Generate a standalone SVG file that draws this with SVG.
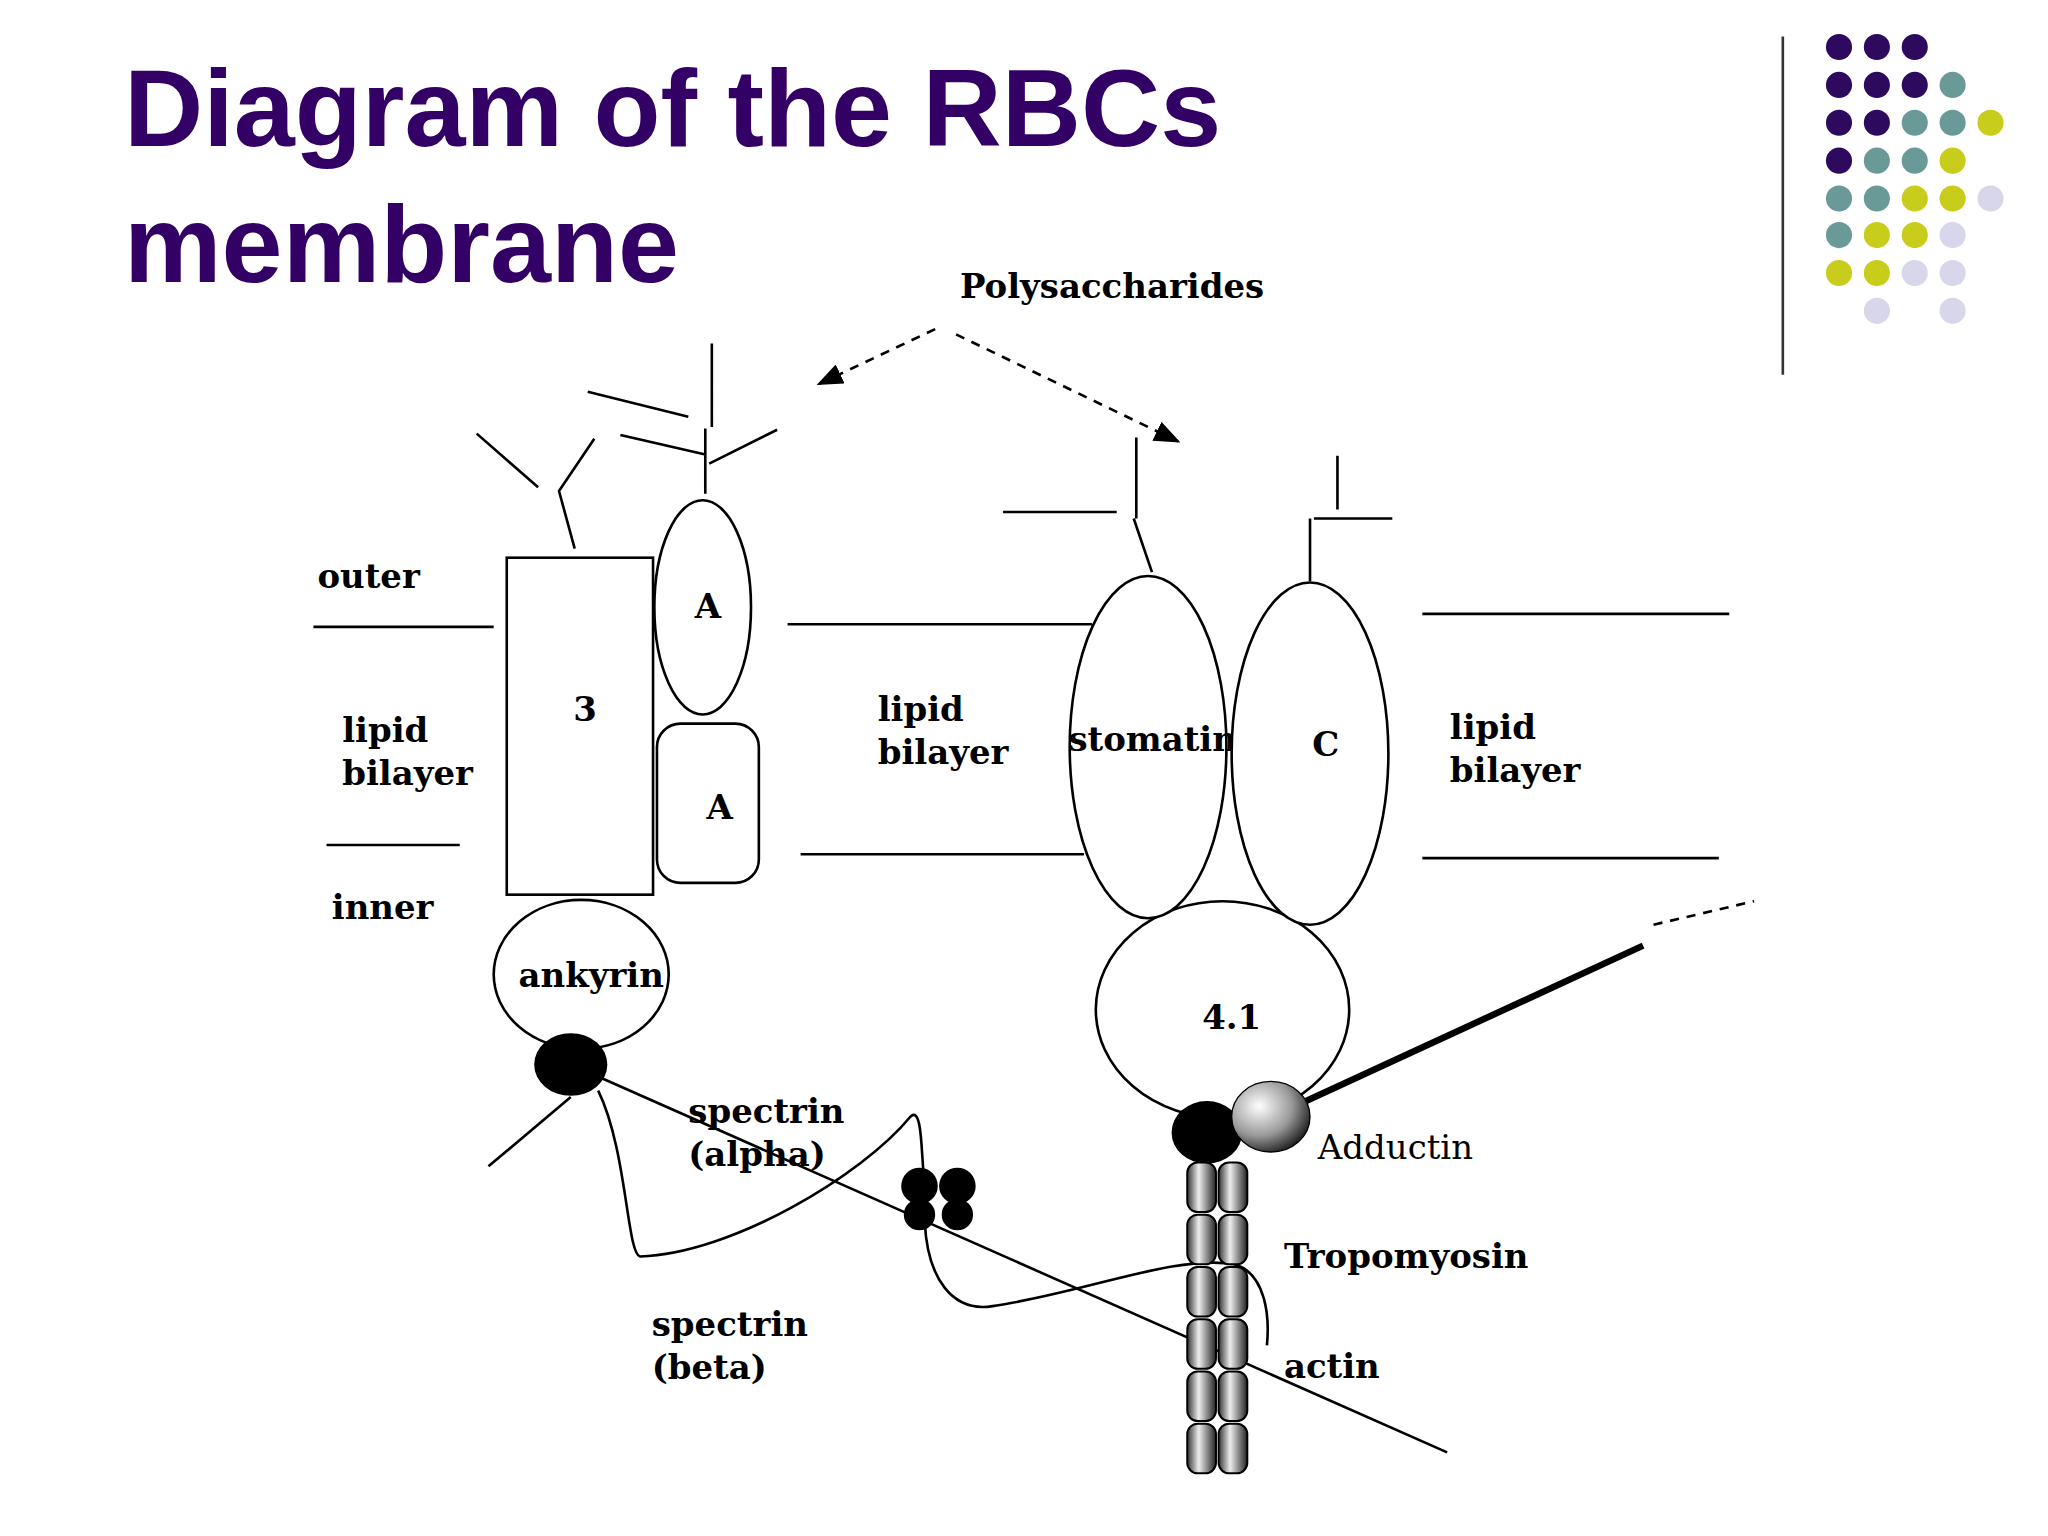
<svg xmlns="http://www.w3.org/2000/svg" width="2048" height="1536" viewBox="0 0 2048 1536">
<style>
.t{font-family:"DejaVu Serif",serif;font-weight:bold;font-size:26px;fill:#000}
.s{fill:none;stroke:#000;stroke-width:2}
.w{fill:#fff;stroke:#000;stroke-width:2}
.p{fill:#2e0a5e}.q{fill:#6a9a98}.y{fill:#c8cc1a}.l{fill:#d8d6ea}
</style>
<defs>
<radialGradient id="g" cx="0.35" cy="0.35" r="0.7"><stop offset="0" stop-color="#fff"/><stop offset="0.6" stop-color="#999"/><stop offset="1" stop-color="#222"/></radialGradient>
<linearGradient id="c" x1="0" x2="1"><stop offset="0" stop-color="#333"/><stop offset="0.4" stop-color="#eee"/><stop offset="1" stop-color="#222"/></linearGradient>
<marker id="ah" markerWidth="10" markerHeight="8" refX="9" refY="4" orient="auto"><path d="M0,0L10,4L0,8z"/></marker>
<symbol id="cap" overflow="visible"><rect x="-11" y="0" width="22" height="38" rx="8" fill="url(#c)" stroke="#000" stroke-width="1.5"/></symbol>
</defs>
<rect width="2048" height="1536" fill="#fff"/>
<g transform="scale(1.3061)">
<g id="title" font-family="Liberation Sans,Arial,sans-serif" font-weight="bold" font-size="84" fill="#330066">
<text x="95" y="112">Diagram of the RBCs</text><text x="95" y="216">membrane</text></g>
<g id="dots">
<circle cx="1408" cy="36" r="10" class="p"/><circle cx="1437" cy="36" r="10" class="p"/><circle cx="1466" cy="36" r="10" class="p"/>
<circle cx="1408" cy="65" r="10" class="p"/><circle cx="1437" cy="65" r="10" class="p"/><circle cx="1466" cy="65" r="10" class="p"/><circle cx="1495" cy="65" r="10" class="q"/>
<circle cx="1408" cy="94" r="10" class="p"/><circle cx="1437" cy="94" r="10" class="p"/><circle cx="1466" cy="94" r="10" class="q"/><circle cx="1495" cy="94" r="10" class="q"/><circle cx="1524" cy="94" r="10" class="y"/>
<circle cx="1408" cy="123" r="10" class="p"/><circle cx="1437" cy="123" r="10" class="q"/><circle cx="1466" cy="123" r="10" class="q"/><circle cx="1495" cy="123" r="10" class="y"/>
<circle cx="1408" cy="152" r="10" class="q"/><circle cx="1437" cy="152" r="10" class="q"/><circle cx="1466" cy="152" r="10" class="y"/><circle cx="1495" cy="152" r="10" class="y"/><circle cx="1524" cy="152" r="10" class="l"/>
<circle cx="1408" cy="180" r="10" class="q"/><circle cx="1437" cy="180" r="10" class="y"/><circle cx="1466" cy="180" r="10" class="y"/><circle cx="1495" cy="180" r="10" class="l"/>
<circle cx="1408" cy="209" r="10" class="y"/><circle cx="1437" cy="209" r="10" class="y"/><circle cx="1466" cy="209" r="10" class="l"/><circle cx="1495" cy="209" r="10" class="l"/>
<circle cx="1437" cy="238" r="10" class="l"/><circle cx="1495" cy="238" r="10" class="l"/>
<line x1="1365" y1="28" x2="1365" y2="287" stroke="#333" stroke-width="2"/></g>
<g id="membrane" class="s">
<path class="s" d="M240,480H378M250,647H352M603,478H836M613,654H830M1089,470H1324M1089,657H1316"/>
<path class="s" d="M365,332L412,373M455,336L428,376L440,420M450,300L527,319M545,263V327M475,333L540,348M595,329L543,355M540,328V378M870,335V397M768,392H855M868,397L882,438M1024,349V390M1006,397H1066M1003,397V445"/>
</g>
<g id="arrows" stroke="#000" stroke-width="2" stroke-dasharray="7,6" fill="none">
<line x1="716" y1="252" x2="627" y2="294" marker-end="url(#ah)"/>
<line x1="732" y1="256" x2="902" y2="338" marker-end="url(#ah)"/>
</g>
<g id="connectors" class="s">
<path class="s" d="M437,815L1108,1112M374,893L437,840"/>
<path class="s" d="M458,835C480,880 480,960 490,962C560,960 660,900 697,855C707,845 705,890 708,905"/>
<path class="s" d="M708,935C710,980 730,1005 760,1000C830,990 900,960 945,968C970,975 972,1010 970,1030"/>
<path d="M1000,843L1258,724" stroke="#000" stroke-width="5"/>
<path d="M1266,708L1343,690" stroke="#000" stroke-width="2" stroke-dasharray="7,6"/>
</g>
<g id="n3"><rect x="388" y="427" width="112" height="258" class="w"/><text x="448" y="552" class="t" text-anchor="middle">3</text></g>
<g id="nA1"><ellipse cx="538" cy="465" rx="37" ry="82" class="w"/><text x="542" y="473" class="t" text-anchor="middle">A</text></g>
<g id="nA2"><rect x="503" y="554" width="78" height="122" rx="18" class="w"/><text x="551" y="627" class="t" text-anchor="middle">A</text></g>
<g id="nankyrin"><ellipse cx="445" cy="746" rx="67" ry="57" class="w"/><text x="397" y="756" class="t">ankyrin</text></g>
<g id="n41"><ellipse cx="936" cy="773" rx="97" ry="83" class="w"/><text x="943" y="788" class="t" text-anchor="middle">4.1</text></g>
<g id="nstomatin"><ellipse cx="879" cy="572" rx="60" ry="131" class="w"/><text x="818" y="575" class="t">stomatin</text></g>
<g id="nC"><ellipse cx="1003" cy="577" rx="60" ry="131" class="w"/><text x="1015" y="579" class="t" text-anchor="middle">C</text></g>
<g id="blobs">
<ellipse cx="437" cy="815" rx="28" ry="24"/>
<circle cx="704" cy="908" r="14"/><circle cx="733" cy="908" r="14"/><circle cx="704" cy="930" r="12"/><circle cx="733" cy="930" r="12"/>
<ellipse cx="924" cy="867" rx="27" ry="24"/>
</g>
<g id="actin">
<use href="#cap" x="920" y="890"/><use href="#cap" x="944" y="890"/>
<use href="#cap" x="920" y="930"/><use href="#cap" x="944" y="930"/>
<use href="#cap" x="920" y="970"/><use href="#cap" x="944" y="970"/>
<use href="#cap" x="920" y="1010"/><use href="#cap" x="944" y="1010"/>
<use href="#cap" x="920" y="1050"/><use href="#cap" x="944" y="1050"/>
<use href="#cap" x="920" y="1090"/><use href="#cap" x="944" y="1090"/>
</g>
<g id="adductin"><ellipse cx="973" cy="855" rx="30" ry="27" fill="url(#g)" stroke="#000"/></g>
<g id="labels" class="t">
<text x="735" y="228">Polysaccharides</text>
<text x="243" y="450">outer</text>
<text x="262" y="568">lipid</text><text x="262" y="601">bilayer</text>
<text x="254" y="704">inner</text>
<text x="672" y="552">lipid</text><text x="672" y="585">bilayer</text>
<text x="1110" y="566">lipid</text><text x="1110" y="599">bilayer</text>
<text x="527" y="860">spectrin</text><text x="527" y="893">(alpha)</text>
<text x="499" y="1023">spectrin</text><text x="499" y="1056">(beta)</text>
<text x="1009" y="887" font-weight="normal">Adductin</text>
<text x="983" y="971">Tropomyosin</text>
<text x="983" y="1055">actin</text>
</g>
</g>
</svg>
